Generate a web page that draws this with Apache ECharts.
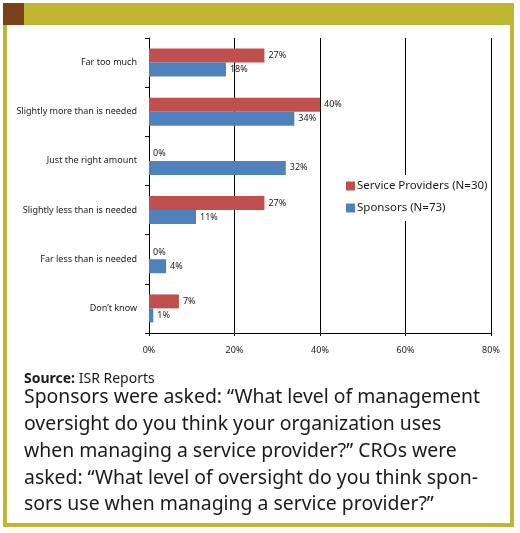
<!DOCTYPE html>
<html>
<head>
<meta charset="utf-8">
<script src="https://cdn.jsdelivr.net/npm/echarts@6/dist/echarts.min.js"></script>
<style>
html,body{margin:0;padding:0;background:#fff;}
#chart{width:520px;height:533px;}
</style>
</head>
<body>
<div id="chart"></div>
<script>
const categories = ["Far too much", "Slightly more than is needed", "Just the right amount", "Slightly less than is needed", "Far less than is needed", "Don\u2019t know"];
const serviceProviders = [27, 40, 0, 27, 0, 7];
const sponsors = [18, 34, 32, 11, 4, 1];
const seriesNames = ["Service Providers (N=30)", "Sponsors (N=73)"];
const xTicks = [0, 20, 40, 60, 80];
const sourceLabel = "Source:";
const sourceText = " ISR Reports";
const noteLines = [
  "Sponsors were asked: \u201cWhat level of management",
  "oversight do you think your organization uses",
  "when managing a service provider?\u201d CROs were",
  "asked: \u201cWhat level of oversight do you think spon-",
  "sors use when managing a service provider?\u201d"
];

const FONT = "'Noto Sans', sans-serif";
const OLIVE = "#bfb634";
const BROWN = "#7a3f1b";

const chart = echarts.init(document.getElementById('chart'), null, {renderer: 'canvas'});

const lineYs = [397, 424, 451, 478, 504];
const graphics = [
  {type: 'rect', shape: {x: 3, y: 3, width: 511, height: 22}, style: {fill: OLIVE}},
  {type: 'rect', shape: {x: 3, y: 3, width: 21, height: 22}, style: {fill: BROWN}},
  {type: 'rect', shape: {x: 3, y: 25, width: 4, height: 502}, style: {fill: OLIVE}},
  {type: 'rect', shape: {x: 510, y: 25, width: 4, height: 502}, style: {fill: OLIVE}},
  {type: 'rect', shape: {x: 3, y: 523, width: 511, height: 4}, style: {fill: OLIVE}},
  {type: 'text', x: 24, y: 379, style: {
    text: '{b|' + sourceLabel + '}' + sourceText,
    font: '14px ' + FONT, fill: '#1a1a1a', verticalAlign: 'middle',
    rich: {b: {fontWeight: 'bold', fontSize: 14, fontFamily: FONT, fill: '#1a1a1a'}}
  }}
];
noteLines.forEach((t, i) => {
  graphics.push({type: 'text', x: 24, y: lineYs[i], style: {
    text: t, font: '19.4px ' + FONT, fill: '#1a1a1a', verticalAlign: 'middle'
  }});
});

const option = {
  animation: false,
  textStyle: {fontFamily: FONT},
  grid: {left: 149, right: 29, top: 38, bottom: 200, containLabel: false},
  legend: {
    orient: 'vertical', left: 340, top: 175,
    padding: [5, 2, 7, 6],
    backgroundColor: '#fff',
    itemWidth: 9, itemHeight: 9, itemGap: 10,
    icon: 'rect',
    data: seriesNames,
    textStyle: {fontSize: 11.5, color: '#1a1a1a', fontFamily: FONT, padding: [0, 0, 0, -3]}
  },
  xAxis: {
    type: 'value', min: 0, max: 80, interval: 20,
    axisLine: {show: true, lineStyle: {color: '#000', width: 1}},
    axisTick: {show: true, length: 3, lineStyle: {color: '#000'}},
    splitLine: {show: true, lineStyle: {color: '#000', width: 1}},
    axisLabel: {
      fontSize: 9, color: '#1a1a1a', margin: 13,
      formatter: v => xTicks.includes(v) ? v + '%' : ''
    }
  },
  yAxis: {
    type: 'category', data: categories, inverse: true,
    axisLine: {show: true, lineStyle: {color: '#000', width: 1}},
    axisTick: {show: true, length: 4, lineStyle: {color: '#000'}},
    axisLabel: {fontSize: 9, color: '#1a1a1a', margin: 12}
  },
  series: [
    {
      name: seriesNames[0], type: 'bar', data: serviceProviders,
      barWidth: 14, barGap: '0%',
      itemStyle: {color: '#c0504d'},
      label: {show: true, position: 'right', formatter: '{c}%', fontSize: 9, color: '#1a1a1a', distance: 4}
    },
    {
      name: seriesNames[1], type: 'bar', data: sponsors,
      barWidth: 14, barGap: '0%',
      itemStyle: {color: '#4f81bd'},
      label: {show: true, position: 'right', formatter: '{c}%', fontSize: 9, color: '#1a1a1a', distance: 4}
    }
  ],
  graphic: graphics
};
chart.setOption(option);
</script>
</body>
</html>
